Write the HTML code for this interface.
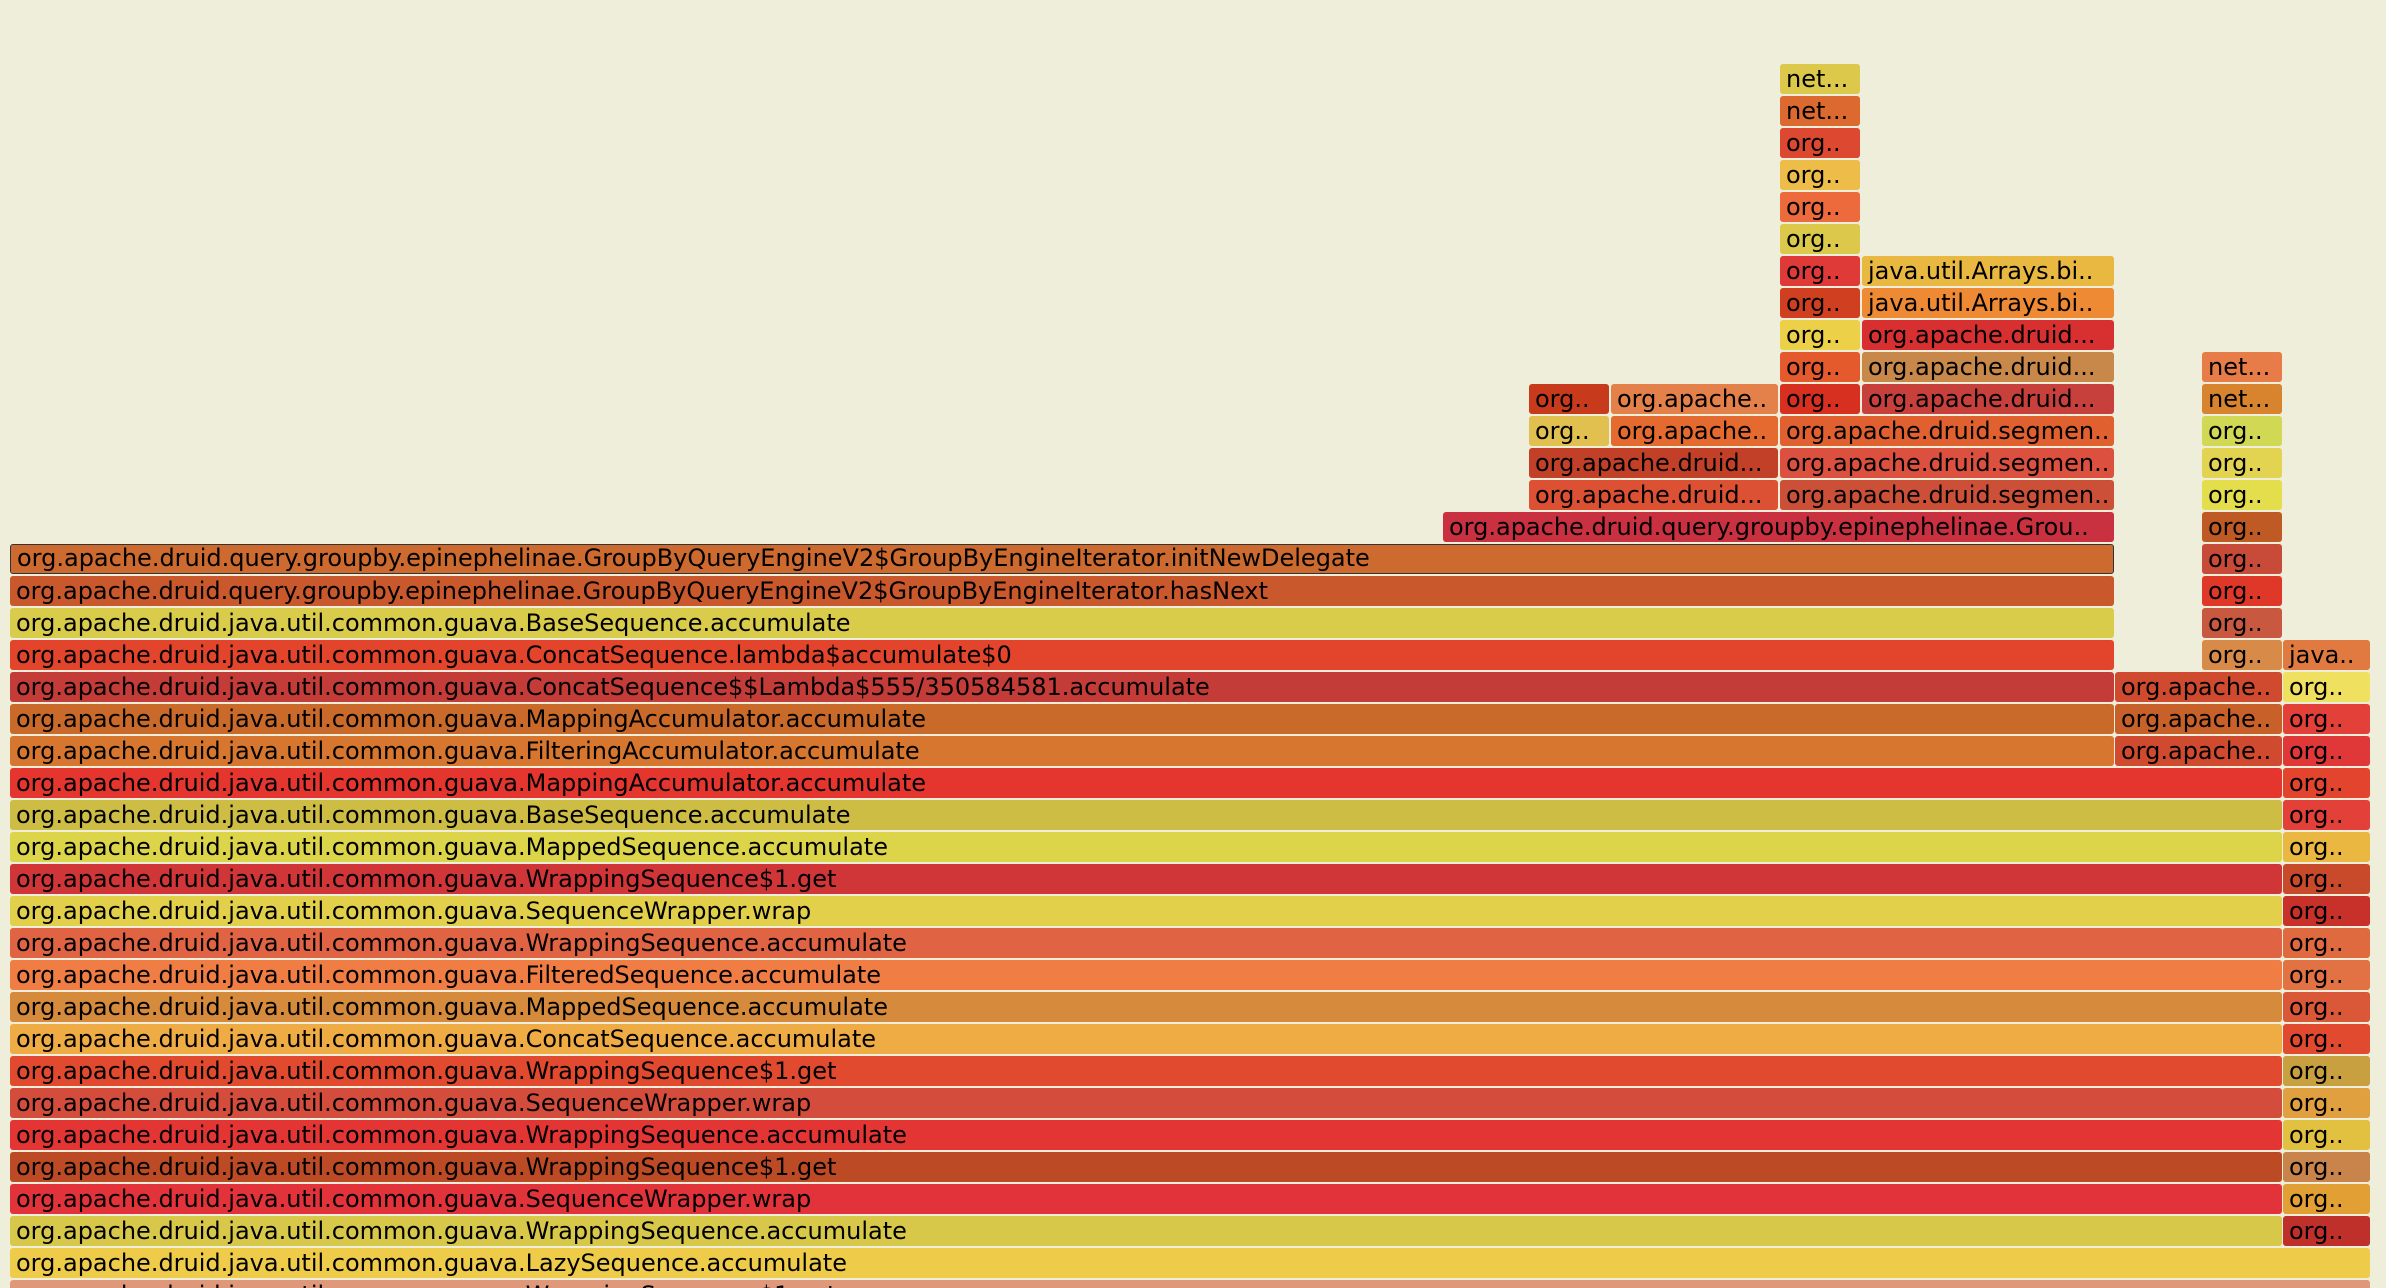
<!DOCTYPE html>
<html><head><meta charset="utf-8"><style>
html,body{margin:0;padding:0;background:#eeeedb;width:2386px;height:1288px;overflow:hidden;position:relative}
.b{position:absolute;height:30px;border-radius:3px;font-family:"DejaVu Sans","Liberation Sans",sans-serif;font-size:24px;line-height:30px;color:#000;padding-left:6px;box-sizing:border-box;overflow:hidden;white-space:nowrap}
</style></head><body>
<script>
const rows=[
[0,10,2371,'#eecc4a','org.apache.druid.java.util.common.guava.LazySequence.accumulate'],
[-1,10,2371,'#e0987a','org.apache.druid.java.util.common.guava.WrappingSequence$1.get'],
[1,10,2283,'#d8c84a','org.apache.druid.java.util.common.guava.WrappingSequence.accumulate'],
[2,10,2283,'#e3333a','org.apache.druid.java.util.common.guava.SequenceWrapper.wrap'],
[3,10,2283,'#bc4a25','org.apache.druid.java.util.common.guava.WrappingSequence$1.get'],
[4,10,2283,'#e43535','org.apache.druid.java.util.common.guava.WrappingSequence.accumulate'],
[5,10,2283,'#d44d3c','org.apache.druid.java.util.common.guava.SequenceWrapper.wrap'],
[6,10,2283,'#e14a2e','org.apache.druid.java.util.common.guava.WrappingSequence$1.get'],
[7,10,2283,'#f0ac44','org.apache.druid.java.util.common.guava.ConcatSequence.accumulate'],
[8,10,2283,'#d68a3b','org.apache.druid.java.util.common.guava.MappedSequence.accumulate'],
[9,10,2283,'#ef7d44','org.apache.druid.java.util.common.guava.FilteredSequence.accumulate'],
[10,10,2283,'#e06444','org.apache.druid.java.util.common.guava.WrappingSequence.accumulate'],
[11,10,2283,'#e2d04a','org.apache.druid.java.util.common.guava.SequenceWrapper.wrap'],
[12,10,2283,'#d03538','org.apache.druid.java.util.common.guava.WrappingSequence$1.get'],
[13,10,2283,'#dcd54a','org.apache.druid.java.util.common.guava.MappedSequence.accumulate'],
[14,10,2283,'#cdbd44','org.apache.druid.java.util.common.guava.BaseSequence.accumulate'],
[15,10,2283,'#e4352f','org.apache.druid.java.util.common.guava.MappingAccumulator.accumulate'],
[16,10,2115,'#d7772f','org.apache.druid.java.util.common.guava.FilteringAccumulator.accumulate'],
[17,10,2115,'#c96a2a','org.apache.druid.java.util.common.guava.MappingAccumulator.accumulate'],
[18,10,2115,'#c43c38','org.apache.druid.java.util.common.guava.ConcatSequence$$Lambda$555/350584581.accumulate'],
[19,10,2115,'#e2452b','org.apache.druid.java.util.common.guava.ConcatSequence.lambda$accumulate$0'],
[20,10,2115,'#d8cc4a','org.apache.druid.java.util.common.guava.BaseSequence.accumulate'],
[21,10,2115,'#c9582c','org.apache.druid.query.groupby.epinephelinae.GroupByQueryEngineV2$GroupByEngineIterator.hasNext'],
[22,10,2115,'#cc6a2f','org.apache.druid.query.groupby.epinephelinae.GroupByQueryEngineV2$GroupByEngineIterator.initNewDelegate','b'],
[16,2115,2283,'#d04a30','org.apache..'],
[17,2115,2283,'#c8602a','org.apache..'],
[18,2115,2283,'#d04a30','org.apache..'],
[1,2283,2371,'#c0302a','org..'],[2,2283,2371,'#e2a034','org..'],[3,2283,2371,'#c8844a','org..'],
[4,2283,2371,'#e2c040','org..'],[5,2283,2371,'#e0a040','org..'],[6,2283,2371,'#c8a040','org..'],
[7,2283,2371,'#e24a30','org..'],[8,2283,2371,'#da5838','org..'],[9,2283,2371,'#e27244','org..'],
[10,2283,2371,'#e06a40','org..'],[11,2283,2371,'#c8302a','org..'],[12,2283,2371,'#c84a2a','org..'],
[13,2283,2371,'#eab840','org..'],[14,2283,2371,'#e24038','org..'],[15,2283,2371,'#e2442e','org..'],
[16,2283,2371,'#e03838','org..'],[17,2283,2371,'#e24038','org..'],[18,2283,2371,'#f0e060','org..'],
[19,2283,2371,'#e07a40','java..'],
[19,2202,2283,'#d88a48','org..'],[20,2202,2283,'#c85840','org..'],[21,2202,2283,'#e03828','org..'],
[22,2202,2283,'#c84a38','org..'],[23,2202,2283,'#c05a24','org..'],[24,2202,2283,'#e4de4c','org..'],
[25,2202,2283,'#e2d450','org..'],[26,2202,2283,'#d0d854','org..'],[27,2202,2283,'#d8842e','net...'],
[28,2202,2283,'#e87c48','net...'],
[23,1443,2115,'#c93040','org.apache.druid.query.groupby.epinephelinae.Grou..'],
[24,1529,1779,'#dc5034','org.apache.druid...'],[25,1529,1779,'#c24028','org.apache.druid...'],
[24,1780,2115,'#cc5038','org.apache.druid.segmen..'],[25,1780,2115,'#dc5040','org.apache.druid.segmen..'],
[26,1780,2115,'#e06030','org.apache.druid.segmen..'],
[26,1529,1610,'#e2c050','org..'],[26,1611,1779,'#e46a30','org.apache..'],
[27,1529,1610,'#c83a1c','org..'],[27,1611,1779,'#e4804a','org.apache..'],
[27,1780,1861,'#d83020','org..'],[27,1862,2115,'#c8403c','org.apache.druid...'],
[28,1780,1861,'#e45a2c','org..'],[28,1862,2115,'#c8884a','org.apache.druid...'],
[29,1780,1861,'#ecd048','org..'],[29,1862,2115,'#d83030','org.apache.druid...'],
[30,1780,1861,'#d04020','org..'],[30,1862,2115,'#ee8a34','java.util.Arrays.bi..'],
[31,1780,1861,'#e03a38','org..'],[31,1862,2115,'#e8b840','java.util.Arrays.bi..'],
[32,1780,1861,'#dcc84a','org..'],[33,1780,1861,'#ec6a3c','org..'],[34,1780,1861,'#eebc48','org..'],
[35,1780,1861,'#dc4830','org..'],[36,1780,1861,'#dc6a30','net...'],[37,1780,1861,'#dcc84a','net...']
];
let h='';
for(const r of rows){
 const top=1248-32*r[0];
 const w=r[2]-r[1]-1;
 const bd=r[5]?'border:1.5px solid #333;line-height:27px;':'';
 h+=`<div class="b" style="left:${r[1]}px;top:${top}px;width:${w}px;background:${r[3]};${bd}">${r[4].replace(/&/g,'&amp;')}</div>`;
}
document.body.innerHTML=h;
</script>
</body></html>
